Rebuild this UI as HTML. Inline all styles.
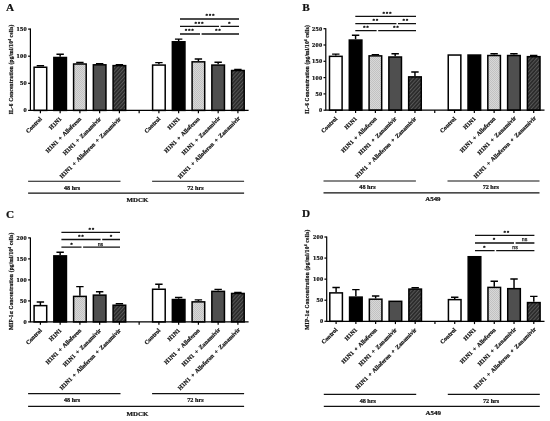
<!DOCTYPE html>
<html><head><meta charset="utf-8"><title>Figure</title>
<style>
html,body{margin:0;padding:0;background:#fff;}
svg{display:block;filter:blur(0.35px);}
text{font-family:"Liberation Serif", serif;fill:#111;stroke:#111;stroke-width:0.22px;}
.b{font-weight:bold;}
.xl{font-size:6px;word-spacing:1.2px;}
.yl{font-size:5.3px;}
.tl{font-size:6.4px;letter-spacing:0.3px;}
.hr{font-size:6.2px;}
.cl{font-size:6.9px;}
.st{font-size:5px;fill:#111;stroke:#111;stroke-width:0.32px;letter-spacing:0.75px;}
.ns{font-size:5.2px;fill:#222;stroke:#222;stroke-width:0.25px;font-family:"Liberation Sans",sans-serif;}
.ax{stroke:#000;stroke-width:1.2;}
.bar{stroke:#000;stroke-width:1.5;}
.er{stroke:#000;stroke-width:1.45;fill:none;}
.sg{stroke:#111;stroke-width:1.3;fill:none;}
.bl{stroke:#111;stroke-width:1.15;fill:none;}
</style></head><body>
<svg width="550" height="421" viewBox="0 0 550 421">
<defs>
<pattern id="dots" width="2" height="2" patternUnits="userSpaceOnUse"><rect width="2" height="2" fill="#d8d8d8"/><rect width="1" height="1" fill="#c2c2c2"/><rect x="1" y="1" width="1" height="1" fill="#c2c2c2"/></pattern>
<pattern id="gray" width="1.2" height="1.2" patternUnits="userSpaceOnUse"><rect width="1.2" height="1.2" fill="#4f4f4f"/></pattern>
<pattern id="hatch" width="2.7" height="2.7" patternUnits="userSpaceOnUse" patternTransform="rotate(-48)"><rect width="2.7" height="2.7" fill="#2a2a2a"/><rect width="2.7" height="1.0" fill="#585858"/></pattern>
</defs>
<rect width="550" height="421" fill="#fff"/>
<text x="6.1" y="10.9" font-size="11.2" class="b">A</text>
<line x1="40.40" y1="110.4" x2="40.40" y2="113.2" class="ax"/>
<path d="M40.40 66.50V65.69M36.70 65.69H44.10" class="er"/>
<rect x="34.10" y="67.25" width="12.6" height="43.15" fill="#ffffff" class="bar"/>
<text transform="translate(42.20 119.40) rotate(-45)" text-anchor="end" class="b xl">Control</text>
<line x1="60.15" y1="110.4" x2="60.15" y2="113.2" class="ax"/>
<path d="M60.15 56.74V54.30M56.45 54.30H63.85" class="er"/>
<rect x="53.85" y="57.49" width="12.6" height="52.91" fill="#000000" class="bar"/>
<text transform="translate(61.95 119.40) rotate(-45)" text-anchor="end" class="b xl">H1N1</text>
<line x1="79.90" y1="110.4" x2="79.90" y2="113.2" class="ax"/>
<path d="M79.90 63.25V62.43M76.20 62.43H83.60" class="er"/>
<rect x="73.60" y="64.00" width="12.6" height="46.40" fill="url(#dots)" class="bar"/>
<text transform="translate(81.70 119.40) rotate(-45)" text-anchor="end" class="b xl">H1N1 + Alloferon</text>
<line x1="99.65" y1="110.4" x2="99.65" y2="113.2" class="ax"/>
<path d="M99.65 64.06V63.63M95.95 63.63H103.35" class="er"/>
<rect x="93.35" y="64.81" width="12.6" height="45.59" fill="url(#gray)" class="bar"/>
<text transform="translate(101.45 119.40) rotate(-45)" text-anchor="end" class="b xl">H1N1 + Zanamivir</text>
<line x1="119.40" y1="110.4" x2="119.40" y2="113.2" class="ax"/>
<path d="M119.40 64.87V64.71M115.70 64.71H123.10" class="er"/>
<rect x="113.10" y="65.62" width="12.6" height="44.78" fill="url(#hatch)" class="bar"/>
<text transform="translate(121.20 119.40) rotate(-45)" text-anchor="end" class="b xl">H1N1 + Alloferon + Zanamivir</text>
<line x1="139.15" y1="110.4" x2="139.15" y2="113.2" class="ax"/>
<line x1="158.90" y1="110.4" x2="158.90" y2="113.2" class="ax"/>
<path d="M158.90 64.33V62.60M155.20 62.60H162.60" class="er"/>
<rect x="152.60" y="65.08" width="12.6" height="45.32" fill="#ffffff" class="bar"/>
<text transform="translate(160.70 119.40) rotate(-45)" text-anchor="end" class="b xl">Control</text>
<line x1="178.65" y1="110.4" x2="178.65" y2="113.2" class="ax"/>
<path d="M178.65 41.02V39.13M174.95 39.13H182.35" class="er"/>
<rect x="172.35" y="41.77" width="12.6" height="68.63" fill="#000000" class="bar"/>
<text transform="translate(180.45 119.40) rotate(-45)" text-anchor="end" class="b xl">H1N1</text>
<line x1="198.40" y1="110.4" x2="198.40" y2="113.2" class="ax"/>
<path d="M198.40 61.08V59.02M194.70 59.02H202.10" class="er"/>
<rect x="192.10" y="61.83" width="12.6" height="48.57" fill="url(#dots)" class="bar"/>
<text transform="translate(200.20 119.40) rotate(-45)" text-anchor="end" class="b xl">H1N1 + Alloferon</text>
<line x1="218.15" y1="110.4" x2="218.15" y2="113.2" class="ax"/>
<path d="M218.15 64.33V62.27M214.45 62.27H221.85" class="er"/>
<rect x="211.85" y="65.08" width="12.6" height="45.32" fill="url(#gray)" class="bar"/>
<text transform="translate(220.75 118.60) rotate(-45)" text-anchor="end" class="b xl" style="letter-spacing:0.05px">H1N1 + Zanamivir</text>
<line x1="237.90" y1="110.4" x2="237.90" y2="113.2" class="ax"/>
<path d="M237.90 69.75V69.42M234.20 69.42H241.60" class="er"/>
<rect x="231.60" y="70.50" width="12.6" height="39.90" fill="url(#hatch)" class="bar"/>
<text transform="translate(240.50 118.60) rotate(-45)" text-anchor="end" class="b xl" style="letter-spacing:0.05px">H1N1 + Alloferon + Zanamivir</text>
<path d="M30.4 28.60V110.4H248.6" class="ax" fill="none"/>
<line x1="28.099999999999998" y1="110.40" x2="30.4" y2="110.40" class="ax"/>
<text x="27.10" y="112.45" text-anchor="end" class="b tl">0</text>
<line x1="28.099999999999998" y1="83.30" x2="30.4" y2="83.30" class="ax"/>
<text x="27.10" y="85.35" text-anchor="end" class="b tl">50</text>
<line x1="28.099999999999998" y1="56.20" x2="30.4" y2="56.20" class="ax"/>
<text x="27.10" y="58.25" text-anchor="end" class="b tl">100</text>
<line x1="28.099999999999998" y1="29.10" x2="30.4" y2="29.10" class="ax"/>
<text x="27.10" y="31.15" text-anchor="end" class="b tl">150</text>
<text transform="translate(12.50 69.50) rotate(-90)" text-anchor="middle" class="b yl" textLength="89.6" lengthAdjust="spacing">IL-6 Concentration (pg/ml/10<tspan dy="-1.7" font-size="3.4">4</tspan><tspan dy="1.7"> cells)</tspan></text>
<path d="M180.00 19H239.00" class="sg"/>
<text x="210.25" y="17.40" text-anchor="middle" class="b st">***</text>
<path d="M180.00 26.4H219.00M220.60 26.4H239.00" class="sg"/>
<text x="199.25" y="24.80" text-anchor="middle" class="b st">***</text>
<text x="229.65" y="24.80" text-anchor="middle" class="b st">*</text>
<path d="M180.00 34H200.00M201.60 34H239.00" class="sg"/>
<text x="189.65" y="32.40" text-anchor="middle" class="b st">***</text>
<text x="218.25" y="32.40" text-anchor="middle" class="b st">**</text>
<path d="M28.1 181.2H120.5M152.1 181.2H244.1M28.1 193.1H244.1" class="bl"/>
<text x="72.1" y="189.60" text-anchor="middle" class="b hr">48 hrs</text>
<text x="195.4" y="189.60" text-anchor="middle" class="b hr">72 hrs</text>
<text x="137.5" y="201.80" text-anchor="middle" class="b cl">MDCK</text>
<text x="302.2" y="10.9" font-size="11.2" class="b">B</text>
<line x1="335.80" y1="110.2" x2="335.80" y2="113.0" class="ax"/>
<path d="M335.80 55.59V54.13M332.10 54.13H339.50" class="er"/>
<rect x="329.50" y="56.34" width="12.6" height="53.86" fill="#ffffff" class="bar"/>
<text transform="translate(337.60 119.20) rotate(-45)" text-anchor="end" class="b xl">Control</text>
<line x1="355.59" y1="110.2" x2="355.59" y2="113.0" class="ax"/>
<path d="M355.59 39.30V35.22M351.89 35.22H359.29" class="er"/>
<rect x="349.29" y="40.05" width="12.6" height="70.16" fill="#000000" class="bar"/>
<text transform="translate(357.39 119.20) rotate(-45)" text-anchor="end" class="b xl">H1N1</text>
<line x1="375.38" y1="110.2" x2="375.38" y2="113.0" class="ax"/>
<path d="M375.38 55.11V54.62M371.68 54.62H379.08" class="er"/>
<rect x="369.08" y="55.86" width="12.6" height="54.34" fill="url(#dots)" class="bar"/>
<text transform="translate(377.18 119.20) rotate(-45)" text-anchor="end" class="b xl">H1N1 + Alloferon</text>
<line x1="395.17" y1="110.2" x2="395.17" y2="113.0" class="ax"/>
<path d="M395.17 56.25V53.80M391.47 53.80H398.87" class="er"/>
<rect x="388.87" y="57.00" width="12.6" height="53.20" fill="url(#gray)" class="bar"/>
<text transform="translate(396.97 119.20) rotate(-45)" text-anchor="end" class="b xl">H1N1 + Zanamivir</text>
<line x1="414.96" y1="110.2" x2="414.96" y2="113.0" class="ax"/>
<path d="M414.96 76.13V72.06M411.26 72.06H418.66" class="er"/>
<rect x="408.66" y="76.88" width="12.6" height="33.32" fill="url(#hatch)" class="bar"/>
<text transform="translate(416.76 119.20) rotate(-45)" text-anchor="end" class="b xl">H1N1 + Alloferon + Zanamivir</text>
<line x1="434.75" y1="110.2" x2="434.75" y2="113.0" class="ax"/>
<line x1="454.54" y1="110.2" x2="454.54" y2="113.0" class="ax"/>
<rect x="448.24" y="55.04" width="12.6" height="55.16" fill="#ffffff" class="bar"/>
<text transform="translate(456.34 119.20) rotate(-45)" text-anchor="end" class="b xl">Control</text>
<line x1="474.33" y1="110.2" x2="474.33" y2="113.0" class="ax"/>
<rect x="468.03" y="55.04" width="12.6" height="55.16" fill="#000000" class="bar"/>
<text transform="translate(476.13 119.20) rotate(-45)" text-anchor="end" class="b xl">H1N1</text>
<line x1="494.12" y1="110.2" x2="494.12" y2="113.0" class="ax"/>
<path d="M494.12 54.78V53.80M490.42 53.80H497.82" class="er"/>
<rect x="487.82" y="55.53" width="12.6" height="54.67" fill="url(#dots)" class="bar"/>
<text transform="translate(495.92 119.20) rotate(-45)" text-anchor="end" class="b xl">H1N1 + Alloferon</text>
<line x1="513.91" y1="110.2" x2="513.91" y2="113.0" class="ax"/>
<path d="M513.91 54.78V53.80M510.21 53.80H517.61" class="er"/>
<rect x="507.61" y="55.53" width="12.6" height="54.67" fill="url(#gray)" class="bar"/>
<text transform="translate(516.51 118.40) rotate(-45)" text-anchor="end" class="b xl" style="letter-spacing:0.05px">H1N1 + Zanamivir</text>
<line x1="533.70" y1="110.2" x2="533.70" y2="113.0" class="ax"/>
<path d="M533.70 55.92V55.59M530.00 55.59H537.40" class="er"/>
<rect x="527.40" y="56.67" width="12.6" height="53.53" fill="url(#hatch)" class="bar"/>
<text transform="translate(536.30 118.40) rotate(-45)" text-anchor="end" class="b xl" style="letter-spacing:0.05px">H1N1 + Alloferon + Zanamivir</text>
<path d="M325.8 28.20V110.2H544.5" class="ax" fill="none"/>
<line x1="323.5" y1="110.20" x2="325.8" y2="110.20" class="ax"/>
<text x="322.50" y="112.25" text-anchor="end" class="b tl">0</text>
<line x1="323.5" y1="93.90" x2="325.8" y2="93.90" class="ax"/>
<text x="322.50" y="95.95" text-anchor="end" class="b tl">50</text>
<line x1="323.5" y1="77.60" x2="325.8" y2="77.60" class="ax"/>
<text x="322.50" y="79.65" text-anchor="end" class="b tl">100</text>
<line x1="323.5" y1="61.30" x2="325.8" y2="61.30" class="ax"/>
<text x="322.50" y="63.35" text-anchor="end" class="b tl">150</text>
<line x1="323.5" y1="45.00" x2="325.8" y2="45.00" class="ax"/>
<text x="322.50" y="47.05" text-anchor="end" class="b tl">200</text>
<line x1="323.5" y1="28.70" x2="325.8" y2="28.70" class="ax"/>
<text x="322.50" y="30.75" text-anchor="end" class="b tl">250</text>
<text transform="translate(308.50 69.50) rotate(-90)" text-anchor="middle" class="b yl" textLength="88.5" lengthAdjust="spacing">IL-6 Concentration (pg/ml/10<tspan dy="-1.7" font-size="3.4">4</tspan><tspan dy="1.7"> cells)</tspan></text>
<path d="M355.30 16.4H416.00" class="sg"/>
<text x="387.25" y="14.80" text-anchor="middle" class="b st">***</text>
<path d="M355.30 23.6H396.40M398.00 23.6H416.00" class="sg"/>
<text x="375.85" y="22.00" text-anchor="middle" class="b st">**</text>
<text x="405.65" y="22.00" text-anchor="middle" class="b st">**</text>
<path d="M355.30 30.6H376.60M378.20 30.6H416.00" class="sg"/>
<text x="366.25" y="29.00" text-anchor="middle" class="b st">**</text>
<text x="396.25" y="29.00" text-anchor="middle" class="b st">**</text>
<path d="M323.5 181.0H415.9M447.5 181.0H539.5M323.5 192.9H539.5" class="bl"/>
<text x="367.5" y="189.40" text-anchor="middle" class="b hr">48 hrs</text>
<text x="490.8" y="189.40" text-anchor="middle" class="b hr">72 hrs</text>
<text x="432.9" y="201.10" text-anchor="middle" class="b cl">A549</text>
<text x="6.1" y="217.5" font-size="11.2" class="b">C</text>
<line x1="40.40" y1="321.9" x2="40.40" y2="324.7" class="ax"/>
<path d="M40.40 304.89V301.95M36.70 301.95H44.10" class="er"/>
<rect x="34.10" y="305.64" width="12.6" height="16.26" fill="#ffffff" class="bar"/>
<text transform="translate(42.20 330.90) rotate(-45)" text-anchor="end" class="b xl">Control</text>
<line x1="60.15" y1="321.9" x2="60.15" y2="324.7" class="ax"/>
<path d="M60.15 255.12V252.18M56.45 252.18H63.85" class="er"/>
<rect x="53.85" y="255.87" width="12.6" height="66.03" fill="#000000" class="bar"/>
<text transform="translate(61.95 330.90) rotate(-45)" text-anchor="end" class="b xl">H1N1</text>
<line x1="79.90" y1="321.9" x2="79.90" y2="324.7" class="ax"/>
<path d="M79.90 295.65V286.62M76.20 286.62H83.60" class="er"/>
<rect x="73.60" y="296.40" width="12.6" height="25.50" fill="url(#dots)" class="bar"/>
<text transform="translate(81.70 330.90) rotate(-45)" text-anchor="end" class="b xl">H1N1 + Alloferon</text>
<line x1="99.65" y1="321.9" x2="99.65" y2="324.7" class="ax"/>
<path d="M99.65 294.39V291.66M95.95 291.66H103.35" class="er"/>
<rect x="93.35" y="295.14" width="12.6" height="26.76" fill="url(#gray)" class="bar"/>
<text transform="translate(101.45 330.90) rotate(-45)" text-anchor="end" class="b xl">H1N1 + Zanamivir</text>
<line x1="119.40" y1="321.9" x2="119.40" y2="324.7" class="ax"/>
<path d="M119.40 304.47V303.84M115.70 303.84H123.10" class="er"/>
<rect x="113.10" y="305.22" width="12.6" height="16.68" fill="url(#hatch)" class="bar"/>
<text transform="translate(121.20 330.90) rotate(-45)" text-anchor="end" class="b xl">H1N1 + Alloferon + Zanamivir</text>
<line x1="139.15" y1="321.9" x2="139.15" y2="324.7" class="ax"/>
<line x1="158.90" y1="321.9" x2="158.90" y2="324.7" class="ax"/>
<path d="M158.90 288.51V284.31M155.20 284.31H162.60" class="er"/>
<rect x="152.60" y="289.26" width="12.6" height="32.64" fill="#ffffff" class="bar"/>
<text transform="translate(160.70 330.90) rotate(-45)" text-anchor="end" class="b xl">Control</text>
<line x1="178.65" y1="321.9" x2="178.65" y2="324.7" class="ax"/>
<path d="M178.65 298.80V297.54M174.95 297.54H182.35" class="er"/>
<rect x="172.35" y="299.55" width="12.6" height="22.35" fill="#000000" class="bar"/>
<text transform="translate(180.45 330.90) rotate(-45)" text-anchor="end" class="b xl">H1N1</text>
<line x1="198.40" y1="321.9" x2="198.40" y2="324.7" class="ax"/>
<path d="M198.40 301.11V299.85M194.70 299.85H202.10" class="er"/>
<rect x="192.10" y="301.86" width="12.6" height="20.04" fill="url(#dots)" class="bar"/>
<text transform="translate(200.20 330.90) rotate(-45)" text-anchor="end" class="b xl">H1N1 + Alloferon</text>
<line x1="218.15" y1="321.9" x2="218.15" y2="324.7" class="ax"/>
<path d="M218.15 290.61V289.35M214.45 289.35H221.85" class="er"/>
<rect x="211.85" y="291.36" width="12.6" height="30.54" fill="url(#gray)" class="bar"/>
<text transform="translate(220.75 330.10) rotate(-45)" text-anchor="end" class="b xl" style="letter-spacing:0.05px">H1N1 + Zanamivir</text>
<line x1="237.90" y1="321.9" x2="237.90" y2="324.7" class="ax"/>
<path d="M237.90 292.71V292.50M234.20 292.50H241.60" class="er"/>
<rect x="231.60" y="293.46" width="12.6" height="28.44" fill="url(#hatch)" class="bar"/>
<text transform="translate(240.50 330.10) rotate(-45)" text-anchor="end" class="b xl" style="letter-spacing:0.05px">H1N1 + Alloferon + Zanamivir</text>
<path d="M30.4 237.40V321.9H248.6" class="ax" fill="none"/>
<line x1="28.099999999999998" y1="321.90" x2="30.4" y2="321.90" class="ax"/>
<text x="27.10" y="323.95" text-anchor="end" class="b tl">0</text>
<line x1="28.099999999999998" y1="300.90" x2="30.4" y2="300.90" class="ax"/>
<text x="27.10" y="302.95" text-anchor="end" class="b tl">50</text>
<line x1="28.099999999999998" y1="279.90" x2="30.4" y2="279.90" class="ax"/>
<text x="27.10" y="281.95" text-anchor="end" class="b tl">100</text>
<line x1="28.099999999999998" y1="258.90" x2="30.4" y2="258.90" class="ax"/>
<text x="27.10" y="260.95" text-anchor="end" class="b tl">150</text>
<line x1="28.099999999999998" y1="237.90" x2="30.4" y2="237.90" class="ax"/>
<text x="27.10" y="239.95" text-anchor="end" class="b tl">200</text>
<text transform="translate(12.50 281.40) rotate(-90)" text-anchor="middle" class="b yl" textLength="97.4" lengthAdjust="spacing">MIP-1α Concentration (pg/ml/10<tspan dy="-1.7" font-size="3.4">4</tspan><tspan dy="1.7"> cells)</tspan></text>
<path d="M61.40 232.3H120.00" class="sg"/>
<text x="91.75" y="230.70" text-anchor="middle" class="b st">**</text>
<path d="M61.40 239.5H100.60M102.20 239.5H120.00" class="sg"/>
<text x="81.25" y="237.90" text-anchor="middle" class="b st">**</text>
<text x="111.25" y="237.90" text-anchor="middle" class="b st">*</text>
<path d="M61.40 247.2H81.50M83.10 247.2H120.00" class="sg"/>
<text x="71.75" y="245.60" text-anchor="middle" class="b st">*</text>
<text x="100.4" y="245.60" text-anchor="middle" class="ns">ns</text>
<path d="M28.1 393.6H120.5M152.1 393.6H244.1M28.1 406.4H244.1" class="bl"/>
<text x="72.1" y="402.30" text-anchor="middle" class="b hr">48 hrs</text>
<text x="195.4" y="402.30" text-anchor="middle" class="b hr">72 hrs</text>
<text x="137.5" y="415.80" text-anchor="middle" class="b cl">MDCK</text>
<text x="302.1" y="217.3" font-size="11.2" class="b">D</text>
<line x1="336.10" y1="321.3" x2="336.10" y2="324.1" class="ax"/>
<path d="M336.10 292.13V287.50M332.40 287.50H339.80" class="er"/>
<rect x="329.80" y="292.88" width="12.6" height="28.42" fill="#ffffff" class="bar"/>
<text transform="translate(337.90 330.30) rotate(-45)" text-anchor="end" class="b xl">Control</text>
<line x1="355.87" y1="321.3" x2="355.87" y2="324.1" class="ax"/>
<path d="M355.87 296.35V289.60M352.17 289.60H359.57" class="er"/>
<rect x="349.57" y="297.10" width="12.6" height="24.20" fill="#000000" class="bar"/>
<text transform="translate(357.67 330.30) rotate(-45)" text-anchor="end" class="b xl">H1N1</text>
<line x1="375.64" y1="321.3" x2="375.64" y2="324.1" class="ax"/>
<path d="M375.64 298.45V295.93M371.94 295.93H379.34" class="er"/>
<rect x="369.34" y="299.20" width="12.6" height="22.10" fill="url(#dots)" class="bar"/>
<text transform="translate(377.44 330.30) rotate(-45)" text-anchor="end" class="b xl">H1N1 + Alloferon</text>
<line x1="395.41" y1="321.3" x2="395.41" y2="324.1" class="ax"/>
<rect x="389.11" y="301.31" width="12.6" height="19.99" fill="url(#gray)" class="bar"/>
<text transform="translate(397.21 330.30) rotate(-45)" text-anchor="end" class="b xl">H1N1 + Zanamivir</text>
<line x1="415.18" y1="321.3" x2="415.18" y2="324.1" class="ax"/>
<path d="M415.18 288.34V287.71M411.48 287.71H418.88" class="er"/>
<rect x="408.88" y="289.09" width="12.6" height="32.21" fill="url(#hatch)" class="bar"/>
<text transform="translate(416.98 330.30) rotate(-45)" text-anchor="end" class="b xl">H1N1 + Alloferon + Zanamivir</text>
<line x1="434.95" y1="321.3" x2="434.95" y2="324.1" class="ax"/>
<line x1="454.72" y1="321.3" x2="454.72" y2="324.1" class="ax"/>
<path d="M454.72 298.88V297.19M451.02 297.19H458.42" class="er"/>
<rect x="448.42" y="299.63" width="12.6" height="21.67" fill="#ffffff" class="bar"/>
<text transform="translate(456.52 330.30) rotate(-45)" text-anchor="end" class="b xl">Control</text>
<line x1="474.49" y1="321.3" x2="474.49" y2="324.1" class="ax"/>
<rect x="468.19" y="256.72" width="12.6" height="64.58" fill="#000000" class="bar"/>
<text transform="translate(476.29 330.30) rotate(-45)" text-anchor="end" class="b xl">H1N1</text>
<line x1="494.26" y1="321.3" x2="494.26" y2="324.1" class="ax"/>
<path d="M494.26 286.65V281.17M490.56 281.17H497.96" class="er"/>
<rect x="487.96" y="287.40" width="12.6" height="33.90" fill="url(#dots)" class="bar"/>
<text transform="translate(496.06 330.30) rotate(-45)" text-anchor="end" class="b xl">H1N1 + Alloferon</text>
<line x1="514.03" y1="321.3" x2="514.03" y2="324.1" class="ax"/>
<path d="M514.03 287.92V279.07M510.33 279.07H517.73" class="er"/>
<rect x="507.73" y="288.67" width="12.6" height="32.63" fill="url(#gray)" class="bar"/>
<text transform="translate(516.63 329.50) rotate(-45)" text-anchor="end" class="b xl" style="letter-spacing:0.05px">H1N1 + Zanamivir</text>
<line x1="533.80" y1="321.3" x2="533.80" y2="324.1" class="ax"/>
<path d="M533.80 301.83V296.35M530.10 296.35H537.50" class="er"/>
<rect x="527.50" y="302.58" width="12.6" height="18.72" fill="url(#hatch)" class="bar"/>
<text transform="translate(536.40 329.50) rotate(-45)" text-anchor="end" class="b xl" style="letter-spacing:0.05px">H1N1 + Alloferon + Zanamivir</text>
<path d="M326.7 236.50V321.3H544.5" class="ax" fill="none"/>
<line x1="324.4" y1="321.30" x2="326.7" y2="321.30" class="ax"/>
<text x="323.40" y="323.35" text-anchor="end" class="b tl">0</text>
<line x1="324.4" y1="300.23" x2="326.7" y2="300.23" class="ax"/>
<text x="323.40" y="302.28" text-anchor="end" class="b tl">50</text>
<line x1="324.4" y1="279.15" x2="326.7" y2="279.15" class="ax"/>
<text x="323.40" y="281.20" text-anchor="end" class="b tl">100</text>
<line x1="324.4" y1="258.08" x2="326.7" y2="258.08" class="ax"/>
<text x="323.40" y="260.13" text-anchor="end" class="b tl">150</text>
<line x1="324.4" y1="237.00" x2="326.7" y2="237.00" class="ax"/>
<text x="323.40" y="239.05" text-anchor="end" class="b tl">200</text>
<text transform="translate(308.50 279.70) rotate(-90)" text-anchor="middle" class="b yl" textLength="100" lengthAdjust="spacing">MIP-1α Concentration (pg/ml/10<tspan dy="-1.7" font-size="3.4">4</tspan><tspan dy="1.7"> cells)</tspan></text>
<path d="M475.00 235.4H534.40" class="sg"/>
<text x="506.65" y="233.80" text-anchor="middle" class="b st">**</text>
<path d="M475.00 243H514.00M515.60 243H534.40" class="sg"/>
<text x="494.25" y="241.40" text-anchor="middle" class="b st">*</text>
<text x="524.6" y="241.40" text-anchor="middle" class="ns">ns</text>
<path d="M475.00 250.6H494.60M496.20 250.6H534.40" class="sg"/>
<text x="484.65" y="249.00" text-anchor="middle" class="b st">*</text>
<text x="515" y="249.00" text-anchor="middle" class="ns">ns</text>
<path d="M323.8 394.3H416.2M447.8 394.3H539.8M323.8 406.4H539.8" class="bl"/>
<text x="367.8" y="403.00" text-anchor="middle" class="b hr">48 hrs</text>
<text x="491.1" y="403.00" text-anchor="middle" class="b hr">72 hrs</text>
<text x="433.2" y="415.10" text-anchor="middle" class="b cl">A549</text>
</svg>
</body></html>
